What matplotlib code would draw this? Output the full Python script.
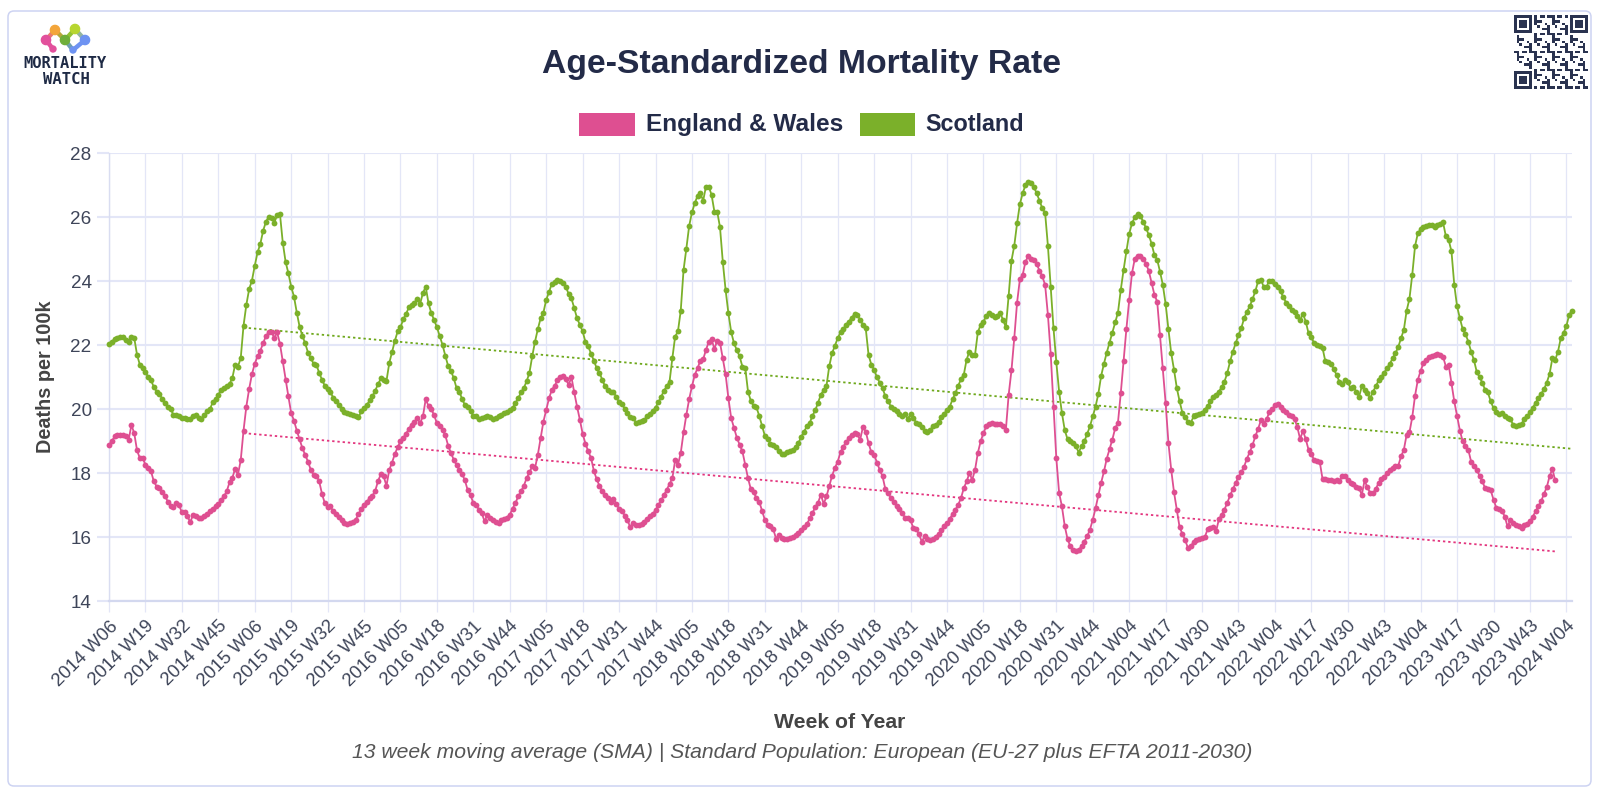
import numpy as np
import matplotlib
matplotlib.use("Agg")
import matplotlib.pyplot as plt
from matplotlib.patches import Rectangle, Circle, FancyBboxPatch

plt.rcParams['font.family'] = ['Liberation Sans', 'DejaVu Sans']

# ---------------- DATA ----------------
years = [2014, 2015, 2016, 2017, 2018, 2019, 2020, 2021, 2022, 2023, 2024]
first_week = [6, 1, 1, 1, 1, 1, 1, 1, 1, 1, 1]
last_week = [52, 53, 52, 52, 52, 52, 53, 52, 52, 52, 6]

scot_2014 = [22.04, 22.11, 22.19, 22.22, 22.25, 22.27, 22.17, 22.10, 22.27, 22.23,
             21.70, 21.39, 21.28, 21.16, 21.00, 20.90, 20.69, 20.55, 20.48, 20.31,
             20.19, 20.08, 20.00, 19.82, 19.82, 19.79, 19.72, 19.71, 19.69, 19.69,
             19.79, 19.82, 19.72, 19.69, 19.82, 19.93, 20.00, 20.21, 20.31, 20.45,
             20.60, 20.66, 20.71, 20.79, 20.97, 21.39, 21.33]
scot_2015 = [21.59, 22.61, 23.26, 23.75, 24.02, 24.48, 24.90, 25.17, 25.58, 25.86,
             26.02, 25.99, 25.83, 26.07, 26.10, 25.21, 24.61, 24.25, 23.83, 23.52,
             23.02, 22.58, 22.29, 22.06, 21.77, 21.59, 21.42, 21.39, 21.13, 20.92,
             20.73, 20.63, 20.53, 20.36, 20.26, 20.14, 20.00, 19.90, 19.89, 19.85,
             19.81, 19.78, 19.74, 19.93, 20.02, 20.13, 20.27, 20.40, 20.58, 20.78,
             20.96, 20.90, 20.88]
scot_2016 = [21.44, 21.79, 22.14, 22.43, 22.56, 22.81, 22.98, 23.18, 23.25, 23.33,
             23.44, 23.29, 23.63, 23.83, 23.31, 23.00, 22.79, 22.56, 22.29, 22.01,
             21.67, 21.35, 21.20, 20.97, 20.66, 20.55, 20.31, 20.13, 20.08, 19.93,
             19.79, 19.77, 19.69, 19.71, 19.75, 19.79, 19.74, 19.70, 19.71, 19.78,
             19.83, 19.88, 19.92, 19.96, 20.04, 20.19, 20.34, 20.52, 20.66, 20.87,
             21.13, 21.65]
scot_2017 = [22.11, 22.50, 22.84, 23.02, 23.42, 23.66, 23.92, 23.96, 24.04, 24.01,
             23.94, 23.83, 23.60, 23.46, 23.16, 22.84, 22.64, 22.43, 22.10, 21.96,
             21.73, 21.52, 21.28, 21.13, 20.92, 20.71, 20.60, 20.55, 20.53, 20.38,
             20.22, 20.17, 20.01, 19.88, 19.75, 19.72, 19.58, 19.61, 19.64, 19.67,
             19.77, 19.85, 19.93, 20.05, 20.21, 20.38, 20.58, 20.71, 20.86, 21.59,
             22.27, 22.43]
scot_2018 = [23.08, 24.35, 25.02, 25.73, 26.15, 26.44, 26.67, 26.75, 26.52, 26.96,
             26.96, 26.70, 26.18, 26.18, 25.69, 24.61, 23.73, 23.00, 22.41, 22.06,
             21.85, 21.65, 21.33, 21.30, 20.55, 20.26, 20.10, 20.06, 19.79, 19.48,
             19.17, 19.06, 18.92, 18.89, 18.83, 18.68, 18.60, 18.60, 18.65, 18.68,
             18.73, 18.81, 18.94, 19.14, 19.30, 19.46, 19.56, 19.80, 19.96, 20.20,
             20.45, 20.60]
scot_2019 = [20.73, 21.35, 21.75, 21.98, 22.22, 22.40, 22.50, 22.64, 22.74, 22.86,
             22.97, 22.95, 22.79, 22.64, 22.53, 21.70, 21.39, 21.23, 21.00, 20.83,
             20.66, 20.40, 20.24, 20.08, 20.00, 19.93, 19.85, 19.79, 19.85, 19.69,
             19.85, 19.71, 19.58, 19.54, 19.44, 19.33, 19.27, 19.35, 19.46, 19.49,
             19.61, 19.75, 19.85, 19.98, 20.08, 20.31, 20.50, 20.73, 20.94, 21.08,
             21.55, 21.80]
scot_2020 = [21.70, 21.70, 22.40, 22.64, 22.74, 22.90, 23.00, 22.95, 22.88, 22.90,
             23.00, 22.79, 22.56, 23.55, 24.64, 25.11, 25.81, 26.41, 26.75, 27.01,
             27.11, 27.06, 26.94, 26.75, 26.52, 26.28, 26.14, 25.11, 23.83, 22.53,
             21.47, 20.55, 19.88, 19.35, 19.06, 18.99, 18.94, 18.85, 18.64, 18.85,
             18.99, 19.23, 19.46, 19.77, 20.08, 20.48, 21.04, 21.42, 21.77, 22.08,
             22.38, 22.71, 23.02]
scot_2021 = [23.73, 24.35, 24.93, 25.48, 25.81, 26.00, 26.10, 26.04, 25.86, 25.66,
             25.45, 25.17, 24.82, 24.67, 24.30, 23.89, 23.29, 22.50, 21.75, 21.23,
             20.66, 20.24, 19.88, 19.75, 19.61, 19.58, 19.77, 19.82, 19.84, 19.88,
             19.98, 20.10, 20.24, 20.38, 20.45, 20.55, 20.69, 20.86, 21.13, 21.49,
             21.80, 22.06, 22.32, 22.53, 22.84, 23.05, 23.21, 23.44, 23.68, 24.00,
             24.04, 23.83]
scot_2022 = [23.83, 24.02, 24.02, 23.92, 23.81, 23.68, 23.50, 23.33, 23.21, 23.10,
             23.03, 22.90, 22.78, 22.98, 22.74, 22.37, 22.25, 22.06, 22.02, 21.96,
             21.91, 21.49, 21.46, 21.42, 21.25, 21.07, 20.86, 20.79, 20.92, 20.84,
             20.66, 20.69, 20.55, 20.38, 20.71, 20.60, 20.50, 20.34, 20.55, 20.71,
             20.90, 21.02, 21.14, 21.28, 21.42, 21.59, 21.75, 21.94, 22.22, 22.48,
             23.08, 23.45]
scot_2023 = [24.20, 25.10, 25.50, 25.62, 25.69, 25.73, 25.76, 25.76, 25.69, 25.76,
             25.79, 25.84, 25.40, 25.29, 24.93, 23.88, 23.21, 22.84, 22.50, 22.35,
             22.11, 21.80, 21.54, 21.17, 21.00, 20.83, 20.60, 20.52, 20.24, 20.03,
             19.90, 19.85, 19.88, 19.77, 19.72, 19.69, 19.51, 19.46, 19.51, 19.54,
             19.69, 19.77, 19.92, 20.05, 20.19, 20.35, 20.48, 20.62, 20.83, 21.10,
             21.59, 21.54]
scot_2024 = [21.80, 22.22, 22.38, 22.60, 22.95, 23.08]

ew_2014 = [18.89, 18.99, 19.15, 19.19, 19.20, 19.19, 19.15, 19.04, 19.50, 19.25,
           18.71, 18.47, 18.47, 18.26, 18.16, 18.05, 17.74, 17.58, 17.53, 17.40,
           17.27, 17.11, 16.98, 16.94, 17.06, 17.00, 16.77, 16.77, 16.65, 16.46,
           16.70, 16.65, 16.60, 16.61, 16.67, 16.73, 16.80, 16.87, 16.96, 17.03,
           17.17, 17.27, 17.43, 17.71, 17.85, 18.13, 17.95]
ew_2015 = [18.40, 19.33, 20.08, 20.63, 21.09, 21.42, 21.65, 21.83, 22.06, 22.29,
           22.40, 22.40, 22.23, 22.40, 22.04, 21.49, 20.92, 20.40, 19.88, 19.64,
           19.33, 19.06, 18.78, 18.57, 18.36, 18.10, 17.95, 17.92, 17.74, 17.35,
           17.06, 16.94, 16.96, 16.80, 16.73, 16.63, 16.54, 16.44, 16.42, 16.44,
           16.48, 16.54, 16.71, 16.88, 17.01, 17.10, 17.22, 17.29, 17.45, 17.75,
           17.97, 17.90, 17.60]
ew_2016 = [18.10, 18.33, 18.60, 18.81, 18.99, 19.11, 19.23, 19.39, 19.51, 19.61,
           19.71, 19.56, 19.77, 20.31, 20.10, 20.00, 19.81, 19.56, 19.48, 19.35,
           19.18, 18.86, 18.63, 18.42, 18.26, 18.10, 17.97, 17.77, 17.46, 17.31,
           17.06, 17.01, 16.85, 16.75, 16.49, 16.70, 16.59, 16.52, 16.46, 16.44,
           16.52, 16.56, 16.61, 16.70, 16.89, 17.06, 17.27, 17.43, 17.60, 17.84,
           18.02, 18.21]
ew_2017 = [18.16, 18.57, 19.09, 19.61, 19.98, 20.34, 20.60, 20.73, 20.90, 21.00,
           21.04, 20.94, 20.76, 21.00, 20.52, 20.08, 19.67, 19.23, 18.92, 18.68,
           18.47, 18.07, 17.81, 17.60, 17.43, 17.32, 17.22, 17.11, 17.19, 17.04,
           16.88, 16.83, 16.67, 16.52, 16.31, 16.44, 16.39, 16.39, 16.41, 16.47,
           16.56, 16.65, 16.71, 16.85, 17.00, 17.15, 17.31, 17.48, 17.66, 17.84,
           18.40, 18.26]
ew_2018 = [18.63, 19.27, 19.82, 20.31, 20.71, 21.07, 21.28, 21.52, 21.56, 21.85,
           22.11, 22.19, 21.88, 22.14, 22.08, 21.59, 21.09, 20.34, 19.72, 19.41,
           19.11, 18.89, 18.68, 18.26, 17.84, 17.50, 17.40, 17.22, 17.11, 16.83,
           16.54, 16.39, 16.33, 16.25, 15.95, 16.07, 15.98, 15.95, 15.93, 15.96,
           16.00, 16.07, 16.12, 16.22, 16.30, 16.40, 16.58, 16.75, 16.94, 17.08,
           17.32, 17.04]
ew_2019 = [17.27, 17.60, 17.92, 18.16, 18.36, 18.65, 18.83, 18.96, 19.10, 19.20,
           19.24, 19.22, 19.04, 19.44, 19.30, 18.94, 18.65, 18.57, 18.33, 18.10,
           17.90, 17.50, 17.38, 17.22, 17.11, 16.98, 16.88, 16.75, 16.61, 16.59,
           16.52, 16.28, 16.25, 16.09, 15.86, 16.02, 15.95, 15.92, 15.94, 16.00,
           16.10, 16.21, 16.33, 16.44, 16.56, 16.73, 16.85, 17.01, 17.22, 17.53,
           17.74, 18.00]
ew_2020 = [17.79, 18.10, 18.63, 18.99, 19.25, 19.46, 19.54, 19.56, 19.54, 19.54,
           19.54, 19.48, 19.35, 20.45, 21.21, 22.22, 23.33, 24.06, 24.20, 24.61,
           24.79, 24.69, 24.67, 24.54, 24.33, 24.15, 23.89, 22.95, 21.73, 20.08,
           18.47, 17.38, 16.96, 16.35, 15.94, 15.71, 15.60, 15.55, 15.60, 15.71,
           15.86, 16.02, 16.23, 16.54, 16.90, 17.30, 17.70, 18.05, 18.45, 18.75,
           19.05, 19.40, 19.58]
ew_2021 = [20.50, 21.50, 22.50, 23.40, 24.25, 24.70, 24.80, 24.80, 24.70, 24.55,
           24.32, 23.95, 23.58, 23.36, 22.32, 21.30, 20.20, 18.95, 18.10, 17.40,
           16.85, 16.30, 16.10, 15.90, 15.65, 15.72, 15.84, 15.92, 15.94, 15.97,
           16.00, 16.25, 16.29, 16.31, 16.18, 16.55, 16.70, 16.86, 17.07, 17.30,
           17.50, 17.69, 17.88, 18.02, 18.20, 18.45, 18.65, 18.87, 19.15, 19.38,
           19.65, 19.55]
ew_2022 = [19.68, 19.90, 20.00, 20.12, 20.15, 20.08, 19.98, 19.90, 19.83, 19.77,
           19.69, 19.44, 19.06, 19.33, 19.06, 18.73, 18.60, 18.40, 18.37, 18.35,
           17.81, 17.81, 17.79, 17.77, 17.74, 17.77, 17.74, 17.90, 17.92, 17.77,
           17.70, 17.67, 17.58, 17.53, 17.32, 17.77, 17.55, 17.38, 17.38, 17.50,
           17.70, 17.81, 17.88, 18.00, 18.10, 18.16, 18.21, 18.23, 18.52, 18.73,
           19.20, 19.27]
ew_2023 = [19.75, 20.42, 20.92, 21.20, 21.44, 21.55, 21.62, 21.66, 21.69, 21.72,
           21.69, 21.64, 21.33, 21.38, 20.81, 20.24, 19.79, 19.33, 18.99, 18.85,
           18.73, 18.36, 18.21, 18.10, 17.92, 17.74, 17.53, 17.50, 17.46, 17.17,
           16.91, 16.88, 16.83, 16.64, 16.33, 16.52, 16.44, 16.39, 16.33, 16.28,
           16.39, 16.42, 16.49, 16.64, 16.80, 16.96, 17.12, 17.35, 17.56, 17.90,
           18.13, 17.77]

# linear baselines (start/end labels and values)
baseline_weeks_scot = ["2015 W02", "2024 W06"]
baseline_vals_scot = [22.55, 18.76]
baseline_weeks_ew = ["2015 W02", "2023 W52"]
baseline_vals_ew = [19.25, 15.55]

series_names = ["England & Wales", "Scotland"]

# ---------------- BUILD ----------------
week_labels = [f"{y} W{w:02d}" for y, a, b in zip(years, first_week, last_week)
               for w in range(a, b + 1)]
scot = np.array(scot_2014 + scot_2015 + scot_2016 + scot_2017 + scot_2018 + scot_2019
                + scot_2020 + scot_2021 + scot_2022 + scot_2023 + scot_2024)
ew = np.array(ew_2014 + ew_2015 + ew_2016 + ew_2017 + ew_2018 + ew_2019
              + ew_2020 + ew_2021 + ew_2022 + ew_2023)
x_scot = np.arange(len(scot))
x_ew = np.arange(len(ew))
tick_pos = list(range(0, len(week_labels), 13))
tick_lab = [week_labels[i] for i in tick_pos]

EW_C = '#de4f91'
SC_C = '#7bb02a'
EW_T = '#e3357e'
SC_T = '#6ea81b'
GRID = '#e3e6f7'
TXT = '#232b48'

W, H = 1600, 793
fig = plt.figure(figsize=(W / 100, H / 100), dpi=100)
fig.patch.set_facecolor('white')

L, R, T, B = 109, 1572, 153.3, 601
ax = fig.add_axes([L / W, 1 - B / H, (R - L) / W, (B - T) / H])
ax.set_xlim(0, len(week_labels) - 1)
ax.set_ylim(14, 28)
ax.set_axisbelow(True)
ax.set_yticks(np.arange(14, 29, 2))
ax.set_xticks(tick_pos)
ax.set_xticklabels(tick_lab, rotation=45, ha='right', rotation_mode='anchor')
ax.grid(axis='y', color=GRID, lw=1.5)
ax.grid(axis='x', color=GRID, lw=0.9)
for s in ['top', 'right']:
    ax.spines[s].set_visible(False)
ax.spines['left'].set_color('#d9ddf1')
ax.spines['left'].set_linewidth(1.0)
ax.spines['bottom'].set_color('#d3d8ef')
ax.spines['bottom'].set_linewidth(1.6)
ax.tick_params(axis='x', length=8, width=0.9, color=GRID, pad=4,
               labelsize=13.3, labelcolor='#3e4559')
ax.tick_params(axis='y', length=8.5, width=1.5, color=GRID, pad=4,
               labelsize=13.6, labelcolor='#3e4559')

# baselines
bx_s = [week_labels.index(w) for w in baseline_weeks_scot]
bx_e = [week_labels.index(w) for w in baseline_weeks_ew]
ax.plot(bx_s, baseline_vals_scot, color=SC_T, lw=1.3, ls=(0, (1.3, 1.6)), zorder=2)
ax.plot(bx_e, baseline_vals_ew, color=EW_T, lw=1.3, ls=(0, (1.3, 1.6)), zorder=2)

ax.plot(x_ew, ew, color=EW_C, lw=1.3, marker='o', ms=4.2, mew=0, zorder=3, clip_on=False)
ax.plot(x_scot, scot, color=SC_C, lw=1.3, marker='o', ms=4.2, mew=0, zorder=3, clip_on=False)

# overlay axes in pixel coordinates
ov = fig.add_axes([0, 0, 1, 1], zorder=5)
ov.set_xlim(0, W)
ov.set_ylim(H, 0)
ov.axis('off')
ov.patch.set_alpha(0)

ov.add_patch(FancyBboxPatch((8, 11), 1583, 775, boxstyle="round,pad=0,rounding_size=6",
                            fill=False, ec='#cdd3f2', lw=1.1))

title = ov.text(801, 65, "Age-Standardized Mortality Rate", ha='center', va='center',
                fontsize=24, fontweight='bold', color=TXT)

# legend
ov.add_patch(Rectangle((578.6, 113.3), 56, 22.4, color=EW_C, lw=0))
leg1 = ov.text(646, 124.5, series_names[0], ha='left', va='center', fontsize=16.5,
               fontweight='bold', color=TXT)
ov.add_patch(Rectangle((860, 113.3), 55, 22.4, color=SC_C, lw=0))
leg2 = ov.text(925.5, 124.5, series_names[1], ha='left', va='center', fontsize=16.5,
               fontweight='bold', color=TXT)

ylab = ov.text(46, 377, "Deaths per 100k", rotation=90, ha='center', va='center',
               fontsize=14.5, fontweight='bold', color='#444444')
xlab = ov.text(840, 722, "Week of Year", ha='center', va='center',
               fontsize=14.5, fontweight='bold', color='#444444')
cap = ov.text(802, 753, "13 week moving average (SMA) | Standard Population: European (EU-27 plus EFTA 2011-2030)",
              ha='center', va='center', fontsize=14, style='italic', color='#555555')

# logo
nodes = {'p': (46, 40), 'o': (55, 30), 'g': (65, 40), 'l': (75, 29), 'b': (85, 40),
         'sp': (53, 49), 'sb': (73, 50)}
ncol = {'p': '#e2509c', 'o': '#f3a53a', 'g': '#6fae3a', 'l': '#b7d630', 'b': '#6e93f2',
        'sp': '#e2509c', 'sb': '#6e93f2'}
edges = [('p', 'o', '#e87a70'), ('o', 'g', '#b5a83a'), ('g', 'l', '#92c234'),
         ('l', 'b', '#93b5a0'), ('p', 'sp', '#e2509c'), ('b', 'sb', '#6e93f2'),
         ('g', 'sb', '#6e9fb0')]
for a_, b_, c_ in edges:
    ov.plot([nodes[a_][0], nodes[b_][0]], [nodes[a_][1], nodes[b_][1]], color=c_,
            lw=3.2, solid_capstyle='round', zorder=6)
for k, (cx, cy) in nodes.items():
    r = 3 if k in ('sp', 'sb') else 4.6
    ov.add_patch(Circle((cx, cy), r, color=ncol[k], zorder=7))
lg1 = ov.text(65, 64, "MORTALITY", ha='center', va='center', family='DejaVu Sans Mono',
              fontweight='bold', fontsize=10.5, color='#1e2a45')
lg2 = ov.text(66, 79, "WATCH", ha='center', va='center', family='DejaVu Sans Mono',
              fontweight='bold', fontsize=10.5, color='#1e2a45')

# QR-like code
n = 29
qr = np.zeros((n, n))
for r in range(n):
    for c in range(n):
        qr[r, c] = 1.0 if ((r * r * 3 + c * 7 + r * c * 5 + c * c) % 7) < 3 else 0.0
def finder(r0, c0):
    qr[max(r0 - 1, 0):r0 + 8, max(c0 - 1, 0):c0 + 8] = 0
    qr[r0:r0 + 7, c0:c0 + 7] = 1
    qr[r0 + 1:r0 + 6, c0 + 1:c0 + 6] = 0
    qr[r0 + 2:r0 + 5, c0 + 2:c0 + 5] = 1
finder(0, 0); finder(0, n - 7); finder(n - 7, 0)
qa = fig.add_axes([1514 / W, 1 - 89 / H, 74 / W, 74 / H], zorder=6)
qa.imshow(qr, cmap=matplotlib.colors.ListedColormap(['white', '#2a3350']),
          interpolation='nearest', aspect='auto')
qa.axis('off')

# fit text sizes to measured widths
fig.canvas.draw()
rend = fig.canvas.get_renderer()
def fit(t, target, vertical=False):
    bb = t.get_window_extent(rend)
    cur = bb.height if vertical else bb.width
    t.set_fontsize(t.get_fontsize() * target / cur)
fit(title, 520)
fit(leg1, 196)
fit(leg2, 98)
fit(ylab, 152, vertical=True)
fit(xlab, 131)
fit(cap, 901)
fit(lg1, 83)
fit(lg2, 47)

fig.savefig("out.png", dpi=100, facecolor='white')
